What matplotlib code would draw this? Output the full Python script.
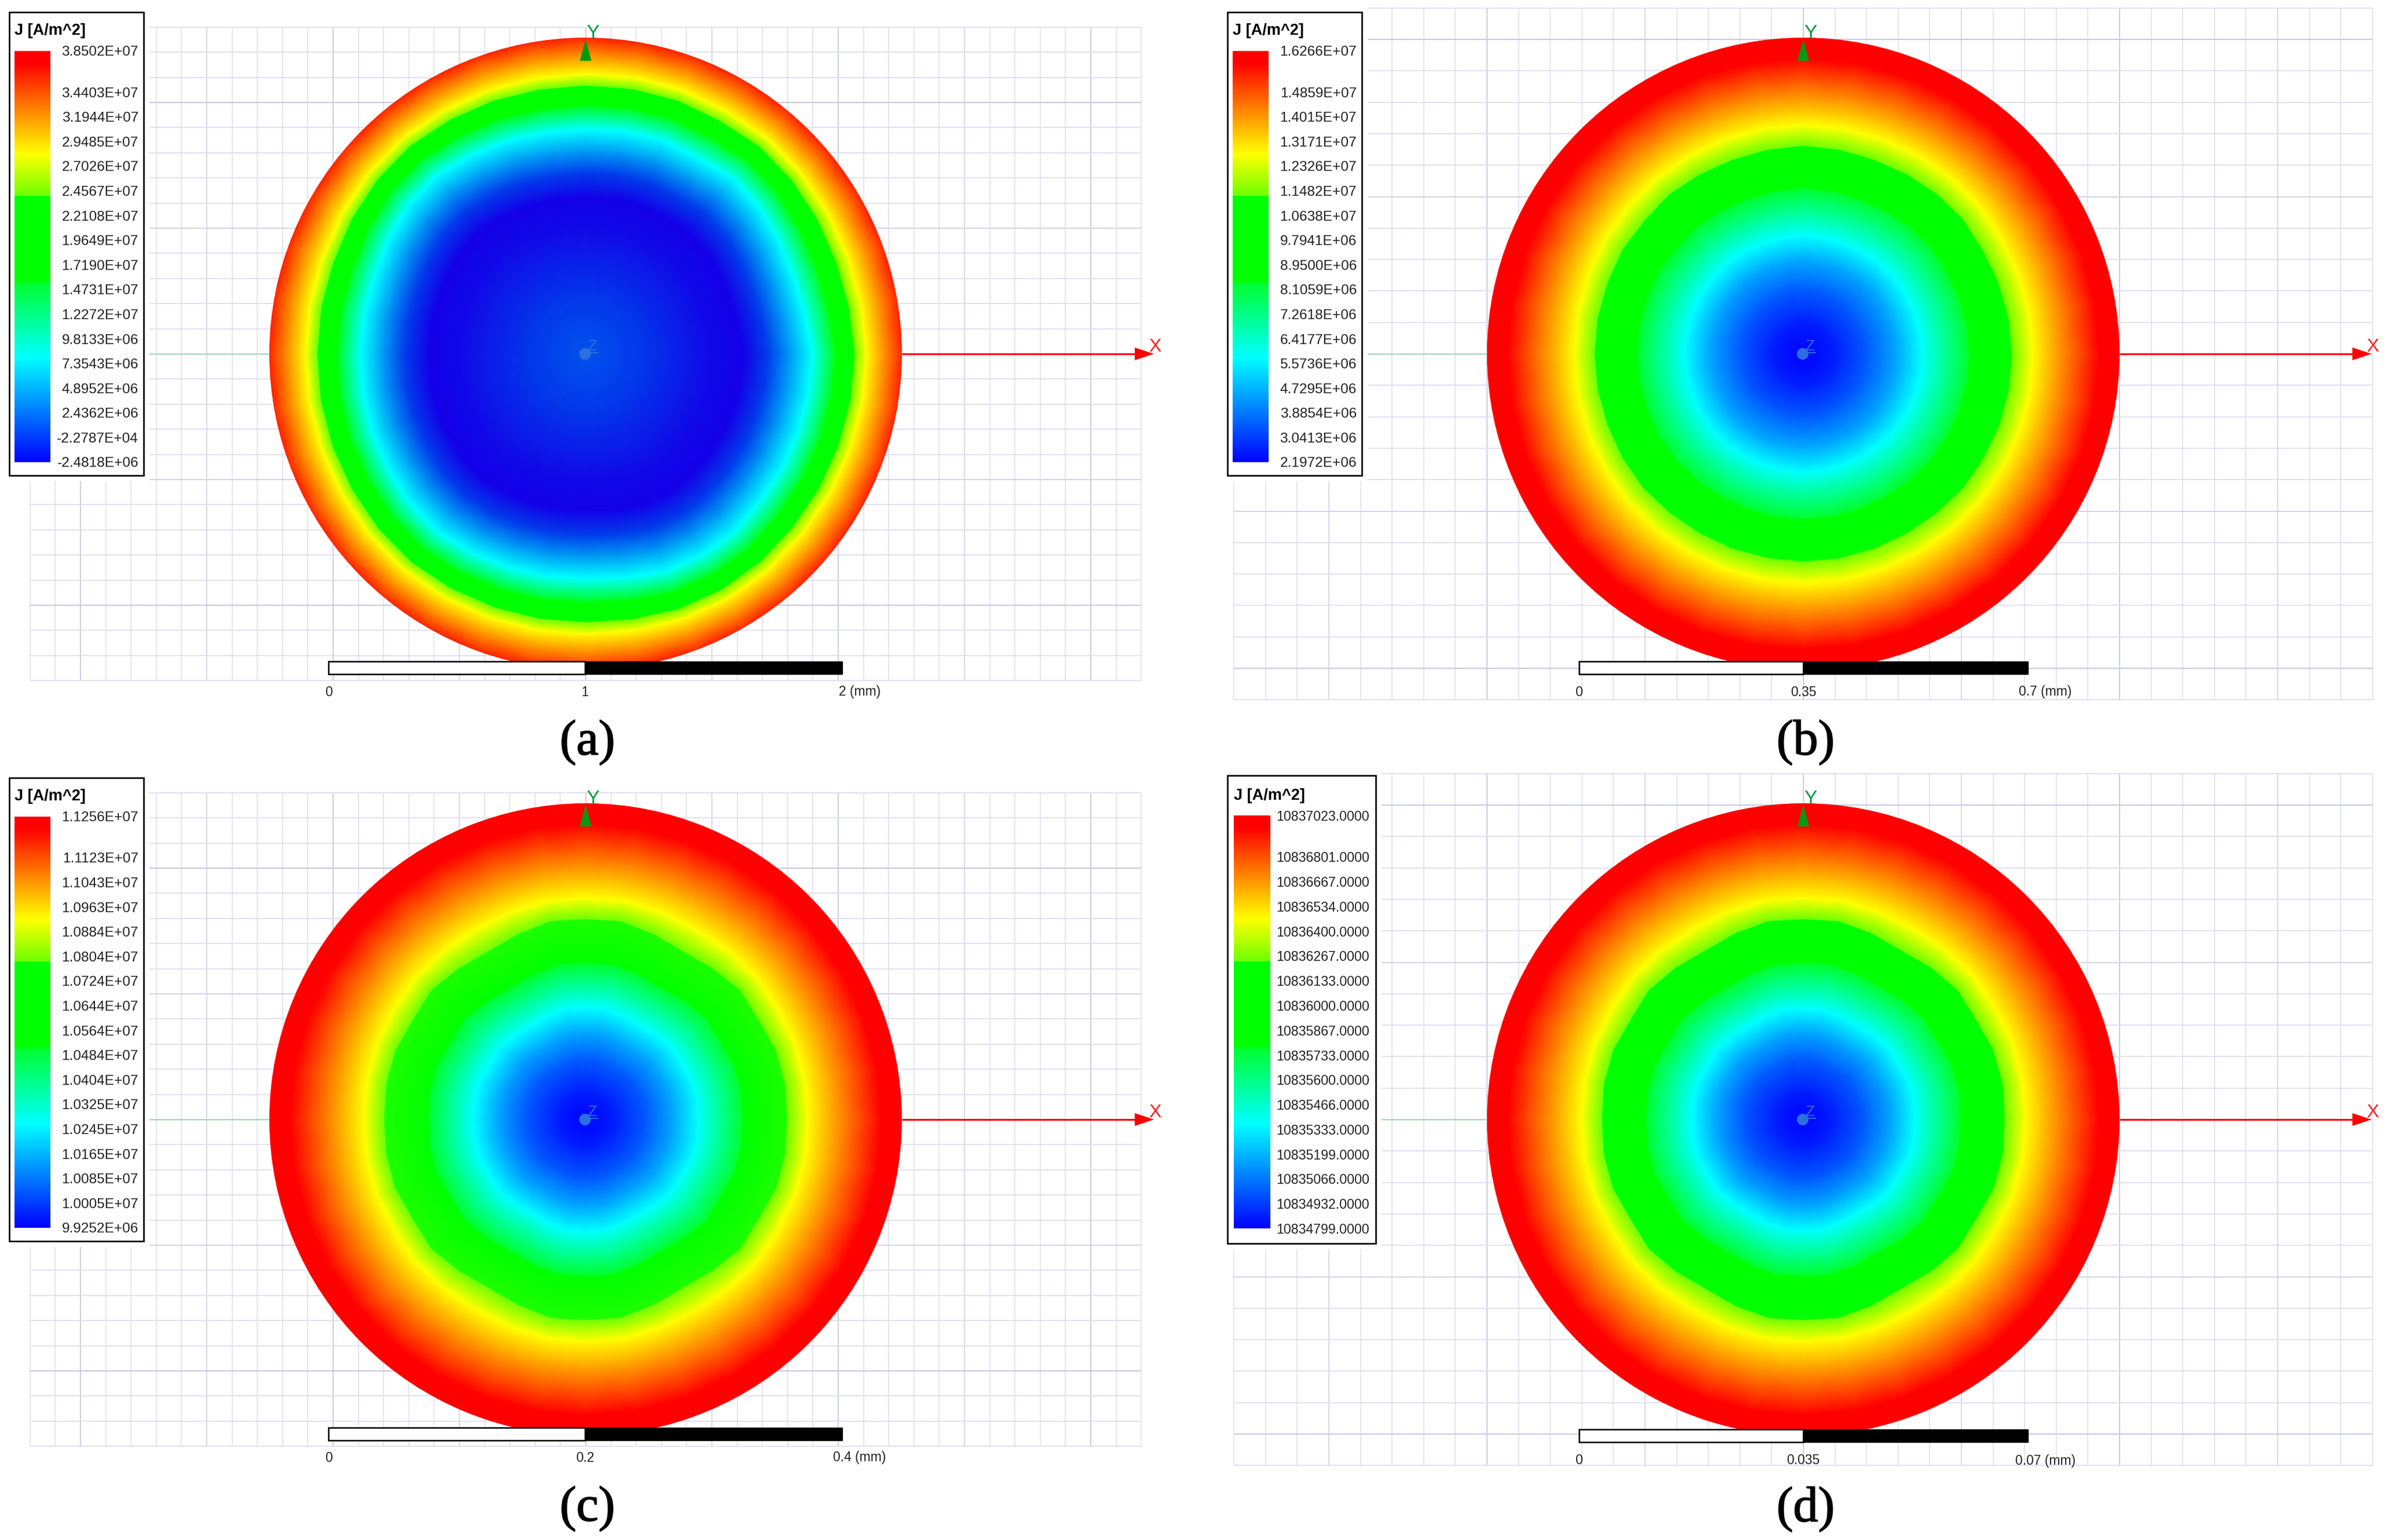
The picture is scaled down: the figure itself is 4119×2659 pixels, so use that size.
import numpy as np
import matplotlib
matplotlib.use("Agg")
import matplotlib.pyplot as plt
import matplotlib.patheffects as pe
from matplotlib.colors import LinearSegmentedColormap, Normalize
from matplotlib.patches import Rectangle, Circle, Polygon
from matplotlib.cm import ScalarMappable

W, H = 4119, 2659
plt.rcParams['font.family'] = ['Liberation Sans', 'DejaVu Sans']

# ---- legend tick values and labels -----------------------------------------
labels_a = ["3.8502E+07","3.4403E+07","3.1944E+07","2.9485E+07","2.7026E+07","2.4567E+07",
            "2.2108E+07","1.9649E+07","1.7190E+07","1.4731E+07","1.2272E+07","9.8133E+06",
            "7.3543E+06","4.8952E+06","2.4362E+06","-2.2787E+04","-2.4818E+06"]
labels_b = ["1.6266E+07","1.4859E+07","1.4015E+07","1.3171E+07","1.2326E+07","1.1482E+07",
            "1.0638E+07","9.7941E+06","8.9500E+06","8.1059E+06","7.2618E+06","6.4177E+06",
            "5.5736E+06","4.7295E+06","3.8854E+06","3.0413E+06","2.1972E+06"]
labels_c = ["1.1256E+07","1.1123E+07","1.1043E+07","1.0963E+07","1.0884E+07","1.0804E+07",
            "1.0724E+07","1.0644E+07","1.0564E+07","1.0484E+07","1.0404E+07","1.0325E+07",
            "1.0245E+07","1.0165E+07","1.0085E+07","1.0005E+07","9.9252E+06"]
labels_d = ["10837023.0000","10836801.0000","10836667.0000","10836534.0000","10836400.0000",
            "10836267.0000","10836133.0000","10836000.0000","10835867.0000","10835733.0000",
            "10835600.0000","10835466.0000","10835333.0000","10835199.0000","10835066.0000",
            "10834932.0000","10834799.0000"]

# ---- current density read along the radius (r as a fraction of the disk radius)
r_a = [0.0, 0.20, 0.40, 0.50, 0.58, 0.65, 0.718, 0.79, 0.791, 0.852, 0.853, 0.888, 1.02]
j_a = [1.2e6, -2.0e5, -2.07e6, -2.48e6, 3.0e5, 4.08e6, 7.93e6, 1.543e7, 1.5455e7, 2.403e7, 2.406e7, 2.826e7, 3.75e7]

r_b = [0.0, 0.10, 0.20, 0.30, 0.375, 0.525, 0.526, 0.660, 0.661, 0.725, 0.935, 1.02]
j_b = [2.1972e6, 2.619e6, 3.463e6, 4.589e6, 5.771e6, 8.345e6, 8.355e6, 1.1299e7, 1.131e7, 1.2749e7, 1.6266e7, 1.6266e7]

r_c = [0.0, 0.09, 0.19, 0.28, 0.355, 0.497, 0.498, 0.637, 0.638, 0.702, 0.935, 1.02]
j_c = [9.9252e6, 9.965e6, 1.0045e7, 1.01514e7, 1.02632e7, 1.05066e7, 1.05077e7, 1.07862e7, 1.07872e7, 1.09233e7, 1.1256e7, 1.1256e7]

r_d = [0.0, 0.09, 0.19, 0.28, 0.352, 0.497, 0.498, 0.637, 0.638, 0.702, 0.935, 1.02]
j_d = [10834799, 10834866, 10834999, 10835177, 10835364, 10835770, 10835773, 10836237, 10836240, 10836467, 10837023, 10837023]

# contour shape read every 10 degrees (contour radius / mean radius)
shape_a = [.997,.98,.975,.985,1.0,1.01,.995,1.0,.995,.99,.99,1.0,1.01,1.025,1.02,1.005,.99,.99,
           .99,.995,1.0,1.005,1.015,1.02,1.01,1.0,.995,.99,1.0,1.02,1.025,1.02,1.005,1.0,.995,.995]
shape_b = [1.0,.998,.995,.993,1.0,.998,.993,.99,.993,.998,.993,.99,.993,.998,.993,1.0,.998,1.0,
           1.0,1.0,.998,1.0,1.0,.995,.993,.993,.993,.995,.995,.993,.993,.995,1.0,.998,1.0,1.0]
shape_c = [1.0,1.005,1.005,.99,1.0,.98,.965,.98,1.0,.995,1.0,.98,.965,.98,1.0,.99,1.005,1.005,
           1.0,1.005,1.005,.99,1.0,.98,.965,.98,1.0,.995,1.0,.98,.965,.98,1.0,.99,1.005,1.005]
shape_d = [1.0,1.005,1.005,.99,1.0,.985,.97,.985,1.0,.995,1.0,.985,.97,.985,1.0,.99,1.005,1.005,
           1.0,1.005,1.005,.99,1.0,.985,.97,.985,1.0,.995,1.0,.985,.97,.985,1.0,.99,1.005,1.005]
shape_weight_a = [1,1,1,1,1,1,1,.7,.7,.4,.4,.25,0]
shape_weight = [1,1,1,1,1,1,1,1,1,.3,0,0]

# ---- scale bars ------------------------------------------------------------
scale_a = ["0", "1", "2"]
scale_b = ["0", "0.35", "0.7"]
scale_c = ["0", "0.2", "0.4"]
scale_d = ["0", "0.035", "0.07"]
captions = ["(a)", "(b)", "(c)", "(d)"]

# ---- layout in pixels (styling only) ---------------------------------------
panels = [
 dict(lab=labels_a, r=r_a, j=j_a, s=shape_a, w=shape_weight_a, sc=scale_a, cap=captions[0], fs=17.6,
      cx=1011, cy=611, dx=43.6, dy=43.4, nx=22, ny=13, box=(16,248,21,821), bar=(25,87,88,798),
      title=(25,53), right=239, sb=(567,1010,1454,1142,1164), sy=1195, capy=1282, capx=1014),
 dict(lab=labels_b, r=r_b, j=j_b, s=shape_b, w=shape_weight, sc=scale_b, cap=captions[1], fs=17.6,
      cx=3113, cy=611, dx=54.6, dy=54.3, nx=18, ny=11, box=(2119,2351,21,821), bar=(2128,2190,88,798),
      title=(2128,53), right=2342, sb=(2726,3113,3501,1142,1164), sy=1195, capy=1282, capx=3117),
 dict(lab=labels_c, r=r_c, j=j_c, s=shape_c, w=shape_weight, sc=scale_c, cap=captions[2], fs=17.6,
      cx=1011, cy=1933, dx=43.6, dy=43.4, nx=22, ny=13, box=(16,248,1343,2143), bar=(25,87,1410,2120),
      title=(25,1375), right=239, sb=(567,1010,1454,2465,2487), sy=2517, capy=2605, capx=1014),
 dict(lab=labels_d, r=r_d, j=j_d, s=shape_d, w=shape_weight, sc=scale_d, cap=captions[3], fs=16.7,
      cx=3113, cy=1933, dx=54.6, dy=54.3, nx=18, ny=11, box=(2119,2375,1339,2147), bar=(2130,2193,1408,2121),
      title=(2130,1374), right=2364, sb=(2726,3113,3501,2468,2490), sy=2522, capy=2606, capx=3117),
]
RADIUS = 546

# ---- colour map taken from the legend bar -----------------------------------
bar_stops = [(0.0,(0,0,255)),(0.254,(0,255,255)),(0.437,(0,255,45)),(0.4375,(0,255,0)),
             (0.647,(0,255,0)),(0.6475,(110,255,0)),(0.75,(255,255,0)),(0.97,(255,0,0)),(1.0,(255,0,0))]
disk_a_stops = [(0.0,(20,0,232)),(0.07,(0,64,235))] + bar_stops[1:]

def make_cmap(stops, name):
    return LinearSegmentedColormap.from_list(name, [(t, tuple(c/255 for c in rgb)) for t, rgb in stops], N=4096)
cmap_bar = make_cmap(bar_stops, "bar")
cmap_disk_a = make_cmap(disk_a_stops, "disk_a")

GRID = '#dedeef'
MAJOR = '#d4d4ea'
MAJOR2 = '#c8c8e2'

fig = plt.figure(figsize=(W/100, H/100), dpi=100, facecolor='white')

def px_axes(z):
    ax = fig.add_axes([0,0,1,1], zorder=z)
    ax.set_xlim(0, W); ax.set_ylim(H, 0); ax.axis('off'); ax.patch.set_alpha(0)
    return ax
back = px_axes(1)
front = px_axes(5)

for idx, p in enumerate(panels):
    cx, cy, dx, dy, nx, ny = p['cx'], p['cy'], p['dx'], p['dy'], p['nx'], p['ny']
    x0, x1, y0, y1 = cx-nx*dx, cx+nx*dx, cy-ny*dy, cy+ny*dy
    # grid
    for k in range(-nx, nx+1):
        m = k % 5 == 0 and k != 0
        c = MAJOR2 if k % 10 == 0 and k != 0 else (MAJOR if m else GRID)
        back.plot([cx+k*dx]*2, [y0, y1], color=c, lw=1.3 if m else 1.1, solid_capstyle='butt')
    for k in range(-ny, ny+1):
        m = k % 5 == 0 and k != 0
        c = MAJOR2 if k % 10 == 0 and k != 0 else (MAJOR if m else GRID)
        back.plot([x0, x1], [cy+k*dy]*2, color=c, lw=1.5 if m else 1.3, solid_capstyle='butt')
    # white area round the legend, only inside this panel
    bx0, bx1, by0, by1 = p['box']
    back.add_patch(Rectangle((x0-5, y0-5), bx1+10-(x0-5), by1+10-(y0-5), fc='white', ec='none', zorder=5))
    # axes stubs
    back.plot([bx1+10, cx-RADIUS], [cy, cy], color='#88cc99', lw=1.0, zorder=6)
    back.plot([cx, cx], [y0, cy], color='#ffb0b0', lw=1.0, zorder=6)
    back.plot([cx, cx], [p['sb'][4], y1], color='#ffb0b0', lw=1.0, zorder=6)

    # disk: nested contours drawn by the library from the read profile
    ax = fig.add_axes([(cx-RADIUS)/W, 1-(cy+RADIUS)/H, 2*RADIUS/W, 2*RADIUS/H], zorder=3)
    ax.set_xlim(-1, 1); ax.set_ylim(-1, 1); ax.axis('off'); ax.patch.set_alpha(0)
    vals = [float(s) for s in p['lab']]
    norm = Normalize(vmin=min(vals), vmax=max(vals))
    theta = np.radians(np.arange(0, 361, 10))
    shape = np.array(p['s'] + p['s'][:1])
    rr = np.array(p['r'])[:, None] * (1 + np.array(p['w'])[:, None] * (shape[None, :] - 1))
    X, Y = rr*np.cos(theta), rr*np.sin(theta)
    C = np.repeat(np.array(p['j'], float)[:, None], len(theta), axis=1)
    mesh = ax.pcolormesh(X, Y, C, shading='gouraud', cmap=cmap_disk_a if idx == 0 else cmap_bar, norm=norm)
    mesh.set_clip_path(Circle((0, 0), 1, transform=ax.transData))

    # arrows
    front.plot([cx+RADIUS, cx+950], [cy, cy], color='#ff0000', lw=2.3, solid_capstyle='butt')
    front.add_patch(Polygon([(cx+948, cy-11), (cx+981, cy), (cx+948, cy+11)], fc='#ff0000', ec='none'))
    front.text(cx+983, cy-12, "X", color='#ff2020', fontsize=23, ha='center', va='center')
    front.add_patch(Polygon([(cx-10, cy-506), (cx, cy-543), (cx+10, cy-506)], fc='#009a10', ec='none'))
    front.text(cx+12, cy-554, "Y", color='#009a40', fontsize=24, ha='center', va='center')
    front.add_patch(Circle((cx-1, cy), 10, fc='#2a70e0', ec='none'))
    front.plot([cx+9, cx+21], [cy-2, cy-2], color='#2a70e0', lw=1.4)
    front.text(cx+11, cy-13, "Z", color='#2a70e0', fontsize=19, ha='center', va='center')

    # scale bar
    s0, s1, s2, sy0, sy1 = p['sb']
    front.add_patch(Rectangle((s0, sy0), s1-s0, sy1-sy0, fc='white', ec='black', lw=1.8))
    front.add_patch(Rectangle((s1, sy0), s2-s1, sy1-sy0, fc='black', ec='black', lw=1.0))
    sc = p['sc']
    front.text(s0, p['sy'], sc[0], fontsize=16.5, ha='center', va='center', color='#222222')
    front.text(s1, p['sy'], sc[1], fontsize=16.5, ha='center', va='center', color='#222222')
    half = (sum(6.4 if ch == '.' else 12.8 for ch in sc[2]))/2
    front.text(s2-half, p['sy'], sc[2] + " (mm)", fontsize=16.5, ha='left', va='center', color='#222222')

    # legend
    front.add_patch(Rectangle((bx0, by0), bx1-bx0, by1-by0, fc='white', ec='black', lw=1.9))
    front.text(p['title'][0], p['title'][1], "J [A/m^2]", fontsize=19.5, fontweight='bold', ha='left', va='center')
    b0, b1, b2, b3 = p['bar']
    cax = fig.add_axes([b0/W, 1-b3/H, (b1-b0)/W, (b3-b2)/H], zorder=6)
    cb = fig.colorbar(ScalarMappable(norm=norm, cmap=cmap_bar), cax=cax)
    cb.outline.set_visible(False)
    cax.yaxis.set_ticks(vals, labels=p['lab'])
    cax.tick_params(axis='y', length=0, pad=(p['right']-b1)*0.72, labelsize=p['fs'], labelcolor='#222222')
    for t in cax.get_yticklabels():
        t.set_ha('right')

    # caption
    fig.text(p['capx']/W, 1-p['capy']/H, p['cap'], family=['Liberation Serif'], fontsize=62,
             ha='center', va='center', color='black', zorder=7,
             path_effects=[pe.withStroke(linewidth=1.2, foreground='black')])

fig.savefig("out.png", dpi=100, facecolor='white')
